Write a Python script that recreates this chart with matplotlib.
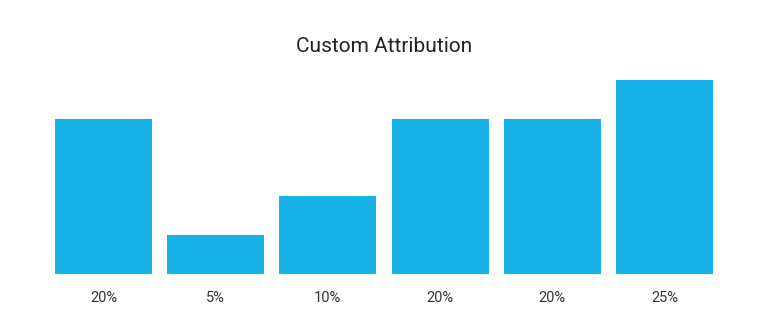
import matplotlib.pyplot as plt
import numpy as np

plt.rcParams['font.family'] = ['Roboto', 'DejaVu Sans']

labels = ['20%', '5%', '10%', '20%', '20%', '25%']
values = [20, 5, 10, 20, 20, 25]

fig = plt.figure(figsize=(7.68, 3.26), dpi=100)
ax = fig.add_axes([0.0617, 0.1595, 0.8766, 0.595])

x = np.arange(len(values))
ax.bar(x, values, width=0.864, color='#17b3e8')
ax.set_xlim(-0.5, len(values) - 0.5)
ax.set_ylim(0, 25)
ax.set_xticks(x)
ax.set_xticklabels(labels, fontsize=10.5, color='#333333')
ax.tick_params(axis='x', length=0, pad=12)
ax.set_yticks([])
for s in ax.spines.values():
    s.set_visible(False)

fig.text(0.5, 1 - 47 / 326, 'Custom Attribution', ha='center', va='center',
         fontsize=15, color='#222222')

fig.savefig('out.png', dpi=100)
